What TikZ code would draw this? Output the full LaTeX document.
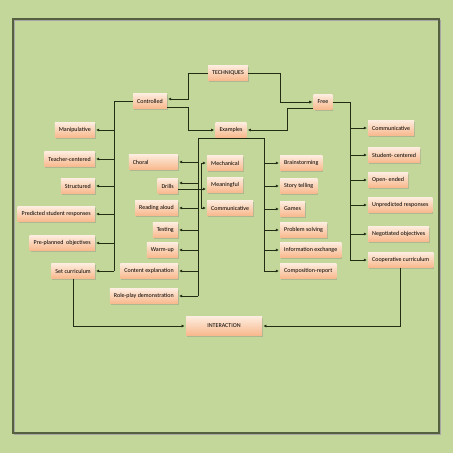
\documentclass[tikz,border=0pt]{standalone}
\usepackage{fontspec}
\setmainfont{Carlito}
\usepackage{tikz}
\usetikzlibrary{arrows.meta,shadows,calc}
\definecolor{bgolive}{RGB}{196,215,155}
\definecolor{framegray}{RGB}{84,96,62}
\definecolor{wire}{RGB}{35,45,20}
\definecolor{peachtop}{RGB}{253,236,222}
\definecolor{peachbot}{RGB}{248,184,140}
\tikzset{tbox/.style={top color=peachtop,bottom color=peachbot,minimum height=15pt,
    inner xsep=4pt,inner ysep=1pt,font=\fontsize{6}{7}\selectfont,
    drop shadow={shadow xshift=1pt,shadow yshift=-1pt,opacity=0.35}}}
\tikzset{wline/.style={wire,line width=0.7pt}}
\tikzset{warr/.style={wline,-{Latex[length=3.2pt,width=3pt]},shorten >=1pt}}

\begin{document}
\begin{tikzpicture}[x=1pt,y=-1pt]
\fill[bgolive] (0,0) rectangle (453,453);
\draw[black!35, line width=1.2pt] (14.5,20.5) rectangle (440.5,434.5);
\draw[framegray, line width=1.6pt] (13,19) rectangle (439,433);

% top level
\node[tbox] (tech) at (228,73) {TECHNIQUES};
\node[tbox] (ctrl) at (150,101) {Controlled};
\node[tbox] (free) at (323,102) {Free};
\node[tbox] (exam) at (231,130) {Examples};
\node[tbox,minimum width=76pt,minimum height=19pt] (inter) at (224,326) {INTERACTION};

% controlled
\node[tbox,anchor=east] (manip) at (95,130) {Manipulative};
\node[tbox,anchor=east] (teach) at (95,159) {Teacher-centered};
\node[tbox,anchor=east] (struct) at (95,186) {Structured};
\node[tbox,anchor=east] (pred) at (95,214) {Predicted student responses};
\node[tbox,anchor=east] (preplan) at (95,243) {Pre-planned\ \ objectives};
\node[tbox,anchor=east] (setcur) at (95,271) {Set curriculum};

% free
\node[tbox,anchor=west] (comm) at (368,128) {Communicative};
\node[tbox,anchor=west] (stud) at (368,155) {Student- centered};
\node[tbox,anchor=west] (open) at (368,180) {Open- ended};
\node[tbox,anchor=west] (unpred) at (368,205) {Unpredicted responses};
\node[tbox,anchor=west] (nego) at (368,234) {Negotiated objectives};
\node[tbox,anchor=west] (coop) at (368,260) {Cooperative curriculum};

% examples, left side
\node[tbox,anchor=east,text width=41pt,align=left] (choral) at (178,162) {Choral};
\node[tbox,anchor=east] (drills) at (178,186) {Drills};
\node[tbox,anchor=east] (read) at (178,208) {Reading aloud};
\node[tbox,anchor=east] (test) at (178,230) {Testing};
\node[tbox,anchor=east] (warm) at (178,250) {Warm-up};
\node[tbox,anchor=east] (content) at (178,271) {Content explanation};
\node[tbox,anchor=east] (role) at (178,296) {Role-play demonstration};

% drills
\node[tbox,anchor=west] (mech) at (207,163) {Mechanical};
\node[tbox,anchor=west] (mean) at (207,185) {Meaningful};
\node[tbox,anchor=west] (dcomm) at (207,208) {Communicative};

% examples, right side
\node[tbox,anchor=west] (brain) at (280,163) {Brainstorming};
\node[tbox,anchor=west] (story) at (280,186) {Story telling};
\node[tbox,anchor=west] (games) at (280,209) {Games};
\node[tbox,anchor=west] (prob) at (280,230) {Problem solving};
\node[tbox,anchor=west] (info) at (280,250) {Information exchange};
\node[tbox,anchor=west] (comp) at (280,271) {Composition-report};

\coordinate (ctrlin) at ([yshift=2pt]ctrl.east);
\coordinate (ctrlout) at ([yshift=-6pt]ctrl.east);
\coordinate (freeout) at ([yshift=-6pt]free.west);
\coordinate (din) at ([yshift=3pt]drills.east);
\coordinate (dout) at ([yshift=-3pt]drills.east);
\coordinate (ctrunk) at (114,101);
\coordinate (ftrunk) at (350,102);
\coordinate (elt) at (198,138);
\coordinate (ert) at (264,138);
\coordinate (dtr) at (201,163);

\draw[warr] (tech.west) -- ++(-20,0) |- (ctrlin);
\draw[warr] (tech.east) -- ++(32,0) |- (free.west);
\draw[warr] (ctrlout) -- ++(21,0) |- (exam.west);
\draw[warr] (freeout) -- ++(-26,0) |- (exam.east);

\draw[wline] (ctrl.west) -- (ctrunk) -- (ctrunk |- setcur.east);
\foreach \n in {manip,teach,struct,pred,preplan,setcur}
  \draw[warr] (ctrunk |- \n.east) -- (\n.east);

\draw[wline] (free.east) -- (ftrunk) -- (ftrunk |- coop.west);
\foreach \n in {comm,stud,open,unpred,nego,coop}
  \draw[warr] (ftrunk |- \n.west) -- (\n.west);

\draw[wline] (elt |- role.east) -- (elt) -- (ert) -- (ert |- comp.west);
\foreach \n in {choral,read,test,warm,content,role}
  \draw[warr] (elt |- \n.east) -- (\n.east);
\draw[warr] (din -| elt) -- (din);
\foreach \n in {brain,story,games,prob,info,comp}
  \draw[warr] (ert |- \n.west) -- (\n.west);

\draw[wline] (dtr |- mech.west) -- (dtr |- dcomm.west);
\draw[warr] (dtr |- mech.west) -- (mech.west);
\draw[warr] (dtr |- dcomm.west) -- (dcomm.west);
\draw[warr] (dout) -- (dout -| mean.west);

\draw[warr] (setcur.south) |- (inter.west);
\draw[warr] (coop.south) |- (inter.east);
\end{tikzpicture}
\end{document}
